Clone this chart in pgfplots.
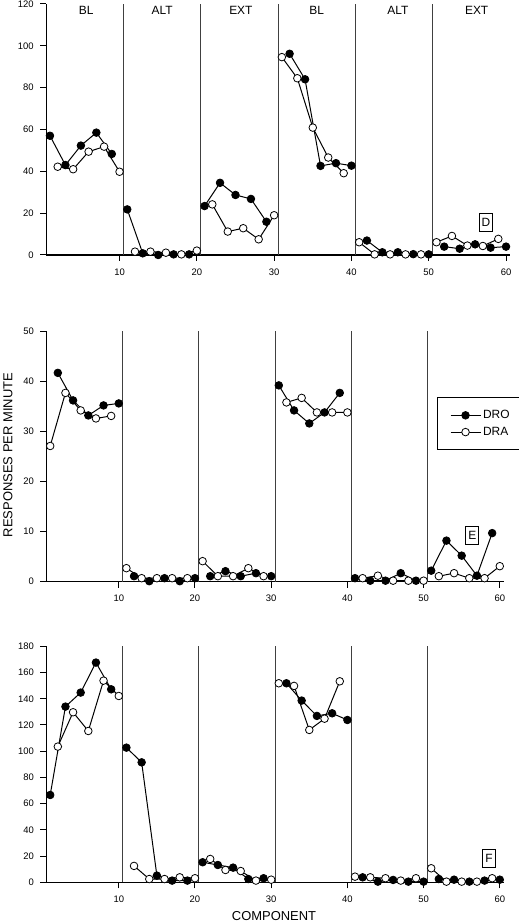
\documentclass[border=0pt]{standalone}
\usepackage{fontspec}
\setmainfont{Liberation Sans}
\usepackage{pgfplots}
\pgfplotsset{compat=1.18}
\begin{document}
\begin{tikzpicture}
\path[use as bounding box] (0bp,0bp) rectangle (519bp,922bp);
\pgfplotsset{
  panel/.style={
    scale only axis, clip=false,
    axis x line=bottom, axis y line=left,
    axis line style={line width=1.1bp,-},
    xmin=0.5, xmax=60.5, ymin=0,
    xtick={10,20,30,40,50,60},
    tick align=outside,
    major tick length=6bp,
    every tick/.style={black,line width=1bp},
    tick label style={font=\fontsize{9.5}{11}\selectfont},
    xticklabel style={yshift=-4bp},
    yticklabel style={xshift=-3bp},
    /pgf/number format/assume math mode=true,
    anchor=south west,
    unbounded coords=jump,
  },
  dro/.style={black,line width=1bp,mark=*,mark size=3.8bp,mark options={fill=black,line width=0.8bp}},
  dra/.style={black,line width=1bp,mark=*,mark size=3.8bp,mark options={fill=white,line width=0.8bp}},
}
% ---------- Panel D ----------
\begin{axis}[panel, at={(46.1bp,667bp)}, width=463.8bp, height=251bp,
  ymax=120, ytick={0,20,40,60,80,100,120}]
\pgfplotsinvokeforeach{10.5,20.5,30.5,40.5,50.5}{\draw[black!75,line width=0.8bp] (axis cs:#1,0) -- (axis cs:#1,120);}
\addplot[dro] coordinates {(1,57) (3,43) (5,52.3) (7,58.5) (9,48.3) (10.5,nan)
 (11,21.8) (13,0.8) (15,0) (17,0.3) (19,0.3) (20.5,nan)
 (21,23.4) (23,34.5) (25,28.7) (27,26.8) (29,15.9) (30.5,nan)
 (32,96.2) (34,84) (36,42.6) (38,43.9) (40,42.7) (40.5,nan)
 (42,6.9) (44,1.3) (46,1.3) (48,0.4) (50,0.3) (50.5,nan)
 (52,4) (54,3) (56,5.1) (58,3.5) (60,4)};
\addplot[dra] coordinates {(2,42.2) (4,41) (6,49.4) (8,51.8) (10,39.8) (10.5,nan)
 (12,1.6) (14,1.6) (16,1.1) (18,0.3) (20,2.1) (20.5,nan)
 (22,24.2) (24,11.2) (26,12.8) (28,7.5) (30,19) (30.5,nan)
 (31,94.6) (33,84.5) (35,60.9) (37,46.6) (39,39.1) (40.5,nan)
 (41,6.1) (43,0.3) (45,0.3) (47,0.3) (49,0.3) (50.5,nan)
 (51,6.1) (53,9.1) (55,4.5) (57,4.3) (59,7.7)};
\node[font=\fontsize{12}{14}\selectfont] at (axis cs:5.7,117) {BL};
\node[font=\fontsize{12}{14}\selectfont] at (axis cs:15.5,117) {ALT};
\node[font=\fontsize{12}{14}\selectfont] at (axis cs:25.7,117) {EXT};
\node[font=\fontsize{12}{14}\selectfont] at (axis cs:35.5,117) {BL};
\node[font=\fontsize{12}{14}\selectfont] at (axis cs:46,117) {ALT};
\node[font=\fontsize{12}{14}\selectfont] at (axis cs:56.2,117) {EXT};
\node[draw=black,line width=0.8bp,font=\fontsize{12}{14}\selectfont,minimum width=13bp,minimum height=17.5bp,inner sep=0pt] at (axis cs:57.4,15.5) {D};
\end{axis}
% ---------- Panel E ----------
\begin{axis}[panel, at={(46.4bp,340.3bp)}, width=457.2bp, height=250.4bp,
  ymax=50, ytick={0,10,20,30,40,50},
  legend style={at={(1.047,0.736)}, anchor=north east, draw=black, line width=1bp,
    font=\fontsize{12}{14}\selectfont, inner xsep=13bp, inner ysep=10.5bp, row sep=3bp},
  legend cell align=left,
  legend image code/.code={\draw[mark repeat=2,mark phase=2] plot coordinates {(0bp,0bp) (15bp,0bp) (30bp,0bp)};}]
\pgfplotsinvokeforeach{10.5,20.5,30.5,40.5,50.5}{\draw[black!75,line width=0.8bp] (axis cs:#1,0) -- (axis cs:#1,50);}
\addplot[dro] coordinates {(2,41.7) (4,36.2) (6,33.2) (8,35.2) (10,35.6) (10.5,nan)
 (12,1.1) (14,0.1) (16,0.7) (18,0.1) (20,0.7) (20.5,nan)
 (22,1.1) (24,2.1) (26,1.1) (28,1.7) (30,1.1) (30.5,nan)
 (31,39.2) (33,34.2) (35,31.6) (37,33.8) (39,37.7) (40.5,nan)
 (41,0.7) (43,0.2) (45,0.2) (47,1.7) (49,0.2) (50.5,nan)
 (51,2.2) (53,8.2) (55,5.2) (57,1.2) (59,9.7)};
\addlegendentry{DRO}
\addplot[dra] coordinates {(1,27.1) (3,37.7) (5,34.2) (7,32.6) (9,33.1) (10.5,nan)
 (11,2.7) (13,0.7) (15,0.7) (17,0.7) (19,0.7) (20.5,nan)
 (21,4.1) (23,1.1) (25,1.1) (27,2.7) (29,1.1) (30.5,nan)
 (32,35.8) (34,36.7) (36,33.8) (38,33.8) (40,33.8) (40.5,nan)
 (42,0.7) (44,1.2) (46,0.2) (48,0.2) (50,0.2) (50.5,nan)
 (52,1.1) (54,1.7) (56,0.7) (58,0.7) (60,3.1)};
\addlegendentry{DRA}
\node[draw=black,line width=0.8bp,font=\fontsize{12}{14}\selectfont,minimum width=13bp,minimum height=17.5bp,inner sep=0pt] at (axis cs:56.4,9.2) {E};
\end{axis}
% ---------- Panel F ----------
\begin{axis}[panel, at={(46.4bp,39.7bp)}, width=457.2bp, height=236bp,
  ymax=180, ytick={0,20,40,60,80,100,120,140,160,180}]
\pgfplotsinvokeforeach{10.5,20.5,30.5,40.5,50.5}{\draw[black!75,line width=0.8bp] (axis cs:#1,0) -- (axis cs:#1,180);}
\addplot[dro] coordinates {(1,66.6) (3,134) (5,144.7) (7,167.6) (9,147.2) (10.5,nan)
 (11,102.7) (13,91.5) (15,5.1) (17,1.3) (19,1.3) (20.5,nan)
 (21,15.3) (23,13.2) (25,11.2) (27,2.5) (29,3.1) (30.5,nan)
 (32,151.8) (34,138.6) (36,126.9) (38,128.9) (40,123.8) (40.5,nan)
 (42,3.8) (44,0.5) (46,1.8) (48,0.5) (50,0.5) (50.5,nan)
 (52,2.5) (54,2) (56,0.5) (58,1.3) (60,2)};
\addplot[dra] coordinates {(2,103.5) (4,129.7) (6,115.4) (8,153.8) (10,142.1) (10.5,nan)
 (12,12.5) (14,2.5) (16,2.5) (18,3.8) (20,3.1) (20.5,nan)
 (22,17.8) (24,9.4) (26,8.6) (28,1.3) (30,2) (30.5,nan)
 (31,151.8) (33,149.8) (35,116.2) (37,124.8) (39,153.3) (40.5,nan)
 (41,4.3) (43,3.8) (45,3.1) (47,1.3) (49,3.1) (50.5,nan)
 (51,10.7) (53,0.5) (55,0.5) (57,0.5) (59,3.1)};
\node[draw=black,line width=0.8bp,font=\fontsize{12}{14}\selectfont,minimum width=13bp,minimum height=17.5bp,inner sep=0pt] at (axis cs:58.6,18.3) {F};
\end{axis}
\node[rotate=90,font=\fontsize{13}{15}\selectfont] at (8bp,467bp) {RESPONSES PER MINUTE};
\node[font=\fontsize{13}{15}\selectfont] at (274bp,5.5bp) {COMPONENT};
\end{tikzpicture}
\end{document}
